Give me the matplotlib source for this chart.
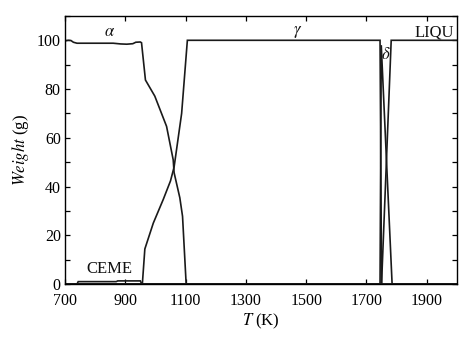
import matplotlib
matplotlib.use("Agg")
import matplotlib.pyplot as plt
from matplotlib.ticker import MultipleLocator

plt.rcParams["font.family"] = ["Liberation Serif", "DejaVu Serif"]
plt.rcParams["mathtext.fontset"] = "stix"

# phase weights (g) vs temperature (K)
alpha_T = [700, 705, 712, 720, 728, 740, 800, 860, 885, 905, 925, 935, 950, 954, 967,
           998, 1037, 1059, 1062, 1081, 1090, 1102]
alpha_w = [99.6, 99.9, 100.0, 99.9, 99.2, 98.8, 98.8, 98.8, 98.5, 98.4, 98.6, 99.2, 99.3, 99.0, 83.7,
           77.1, 64.7, 51.0, 45.7, 35.4, 27.8, 0.0]

gamma_T = [700, 953, 957, 965, 993, 1026, 1050, 1062, 1087, 1106, 1745, 1750, 2000]
gamma_w = [0.0, 0.0, 0.5, 14.4, 25.0, 34.7, 42.3, 48.0, 70.0, 100.0, 100.0, 0.0, 0.0]

ceme_T = [700, 740, 744, 870, 875, 950, 955, 2000]
ceme_w = [0.0, 0.0, 1.0, 1.0, 1.3, 1.3, 0.0, 0.0]

delta_T = [700, 1745, 1749, 1785, 2000]
delta_w = [0.0, 0.0, 98.0, 0.0, 0.0]

liqu_T = [700, 1750, 1782, 2000]
liqu_w = [0.0, 0.0, 100.0, 100.0]

T_ticks = [700, 900, 1100, 1300, 1500, 1700, 1900]

phase_labels = [(r"$\alpha$", 849, 103.3), (r"$\gamma$", 1472, 103.3), ("LIQU", 1926, 103.3),
                (r"$\delta$", 1763, 93.8), ("CEME", 849, 6.0)]

fig = plt.figure(figsize=(4.74, 3.46), dpi=100)
ax = fig.add_axes([0.137, 0.179, 0.827, 0.775])

lc = "#1a1a1a"
for T, w in [(alpha_T, alpha_w), (gamma_T, gamma_w), (ceme_T, ceme_w),
             (delta_T, delta_w), (liqu_T, liqu_w)]:
    ax.plot(T, w, color=lc, lw=1.2, solid_joinstyle="miter")

for txt, x, y in phase_labels:
    ax.text(x, y, txt, ha="center", va="center", fontsize=12, color="#111111")

ax.set_xlim(700, 2000)
ax.set_ylim(0, 110)
ax.set_xticks(T_ticks)
ax.yaxis.set_major_locator(MultipleLocator(20))
ax.yaxis.set_minor_locator(MultipleLocator(10))
ax.tick_params(which="both", direction="in", top=True, right=True,
               labelsize=11.5, length=3.5, width=0.9, pad=3)
ax.tick_params(axis="x", pad=6.5)

ax.set_xlabel(r"$\mathit{T}$ (K)", fontsize=12, labelpad=2)
ax.set_ylabel(r"$\mathit{Weight}$ (g)", fontsize=12, labelpad=4)
for s in ax.spines.values():
    s.set_linewidth(1.0)

fig.savefig("out.png", dpi=100)
